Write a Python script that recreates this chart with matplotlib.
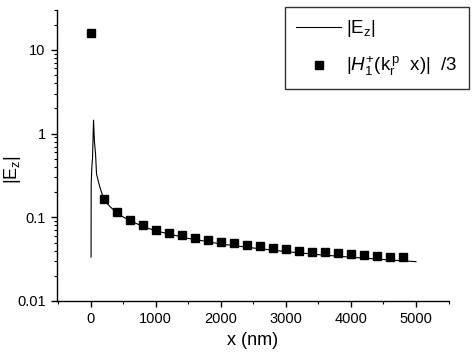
import matplotlib
matplotlib.use("Agg")
import matplotlib.pyplot as plt
from matplotlib.ticker import LogLocator, FixedLocator, NullFormatter, MultipleLocator

plt.rcParams['font.family'] = ['Liberation Sans', 'DejaVu Sans']
plt.rcParams['mathtext.fontset'] = 'custom'
plt.rcParams['mathtext.rm'] = 'Liberation Sans'
plt.rcParams['mathtext.it'] = 'Liberation Sans:italic'

# |E_z| curve
ez_x = [8, 10, 14, 20, 30, 46, 60, 77, 92, 120, 143, 194, 250, 300, 400, 500, 600,
        800, 1000, 1250, 1500, 1750, 2000, 2500, 3000, 3500, 4000, 4500, 5000]
ez_y = [0.0335, 0.25, 0.3, 0.4, 0.5, 1.45, 0.8, 0.575, 0.33, 0.27, 0.23, 0.174, 0.148,
        0.134, 0.114, 0.101, 0.092, 0.078, 0.069, 0.062, 0.056, 0.052, 0.048, 0.043,
        0.039, 0.0358, 0.0334, 0.0313, 0.0295]

# |H1+(kr^p x)|/3 squares
h_x = [0, 200, 400, 600, 800, 1000, 1200, 1400, 1600, 1800, 2000, 2200, 2400, 2600,
       2800, 3000, 3200, 3400, 3600, 3800, 4000, 4200, 4400, 4600, 4800]
h_y = [15.9, 0.166, 0.115, 0.093, 0.080, 0.071, 0.065, 0.061, 0.057, 0.054, 0.051,
       0.049, 0.047, 0.045, 0.043, 0.042, 0.040, 0.039, 0.038, 0.037, 0.036, 0.0353,
       0.0344, 0.0339, 0.0331]

x_ticks = [0, 1000, 2000, 3000, 4000, 5000]
y_ticks = [0.01, 0.1, 1, 10]
y_ticklabels = ['0.01', '0.1', '1', '10']

fig = plt.figure(figsize=(4.74, 3.56), dpi=100)
ax = fig.add_axes([0.1196, 0.1545, 0.828, 0.8174])

l1, = ax.plot(ez_x, ez_y, color='black', lw=0.8, label=r'$\mathrm{|E_z|}$')
l2, = ax.plot(h_x, h_y, ls='none', marker='s', ms=5.5, color='black',
              label=r'$\mathrm{|}\mathit{H}_\mathrm{1}^{\mathrm{+}}\mathrm{(k_r^{\,p}\ \ x)|\ \ /3}$')

ax.set_yscale('log')
ax.set_xlim(-520, 5510)
ax.set_ylim(0.01, 30)

ax.set_xticks(x_ticks)
ax.xaxis.set_minor_locator(MultipleLocator(500))
ax.yaxis.set_major_locator(FixedLocator(y_ticks))
ax.set_yticklabels(y_ticklabels)
ax.yaxis.set_minor_locator(LogLocator(base=10, subs=range(2, 10)))
ax.yaxis.set_minor_formatter(NullFormatter())

ax.tick_params(which='major', direction='out', length=4, width=1, labelsize=10.5, pad=4)
ax.tick_params(which='minor', direction='out', length=2.5, width=0.8)

for s in ['top', 'right']:
    ax.spines[s].set_visible(False)
for s in ['left', 'bottom']:
    ax.spines[s].set_linewidth(1.0)

ax.set_xlabel('x (nm)', fontsize=13, labelpad=4)
ax.set_ylabel(r'$\mathrm{|E_z|}$', fontsize=13)
ax.yaxis.set_label_coords(-0.086, 0.45)

leg = ax.legend(handles=[l1, l2], loc='upper right',
                bbox_to_anchor=(0.989, 0.980), bbox_transform=fig.transFigure,
                frameon=True, fancybox=False, edgecolor='black', fontsize=13.5,
                handlelength=2.4, handletextpad=0.25, borderpad=0.6, labelspacing=0.8,
                borderaxespad=0)
leg.get_frame().set_linewidth(1.0)

fig.savefig('out.png', dpi=100)
